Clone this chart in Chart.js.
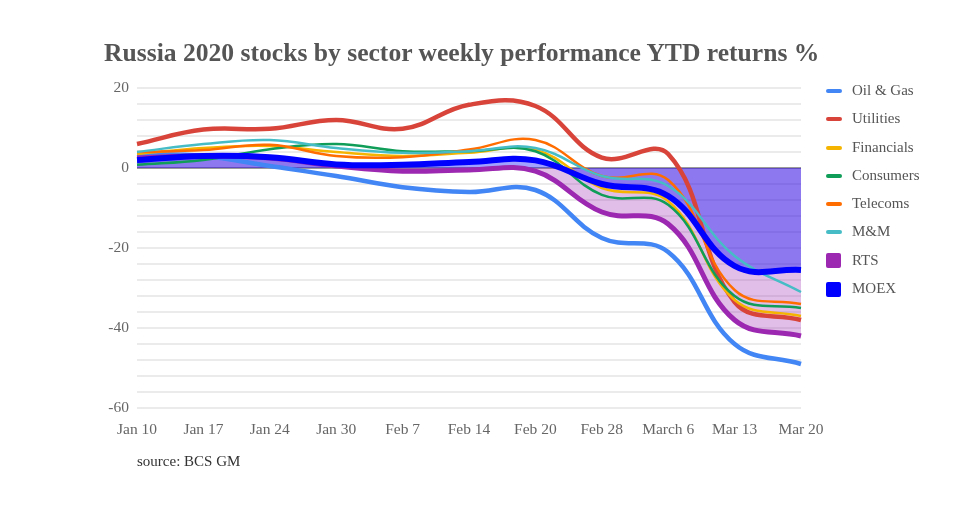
<!DOCTYPE html>
<html>
<head>
<meta charset="utf-8">
<title>Russia 2020 stocks by sector</title>
<script src="https://cdn.jsdelivr.net/npm/chart.js@4.4.1/dist/chart.umd.min.js"></script>
<style>
  body { margin: 0; background: #fff; }
  #wrap { position: relative; width: 974px; height: 510px; }
  #title { position: absolute; left: 104px; top: 40px; font: bold 25.6px/1 "Liberation Serif", serif; color: #555; white-space: nowrap; }
  #legend { position: absolute; left: 826px; top: 77px; font: 15px "Liberation Serif", serif; color: #555; }
  .item { position: relative; height: 28.3px; }
  .swatch { position: absolute; left: 0; border-radius: 2px; }
  .label { position: absolute; left: 26px; top: 5px; white-space: nowrap; }
  #source { position: absolute; left: 137px; top: 454px; font: 15px/1 "Liberation Serif", serif; color: #333; }
</style>
</head>
<body>
<div id="wrap">
  <canvas id="chart"></canvas>
  <div id="title">Russia 2020 stocks by sector weekly performance YTD returns %</div>
  <div id="legend"></div>
  <div id="source">source: BCS GM</div>
</div>
<script>
// weekly YTD returns, %
const weeks = ['Jan 10', 'Jan 17', 'Jan 24', 'Jan 30', 'Feb 7', 'Feb 14', 'Feb 20', 'Feb 28', 'March 6', 'Mar 13', 'Mar 20'];
const oilGas = [3.5, 3, 0.5, -2, -4.8, -6, -5.5, -17.5, -21, -44, -49];
const utilities = [6, 9.6, 9.8, 12, 9.8, 15.8, 15.5, 2.6, 3.5, -33.5, -38];
const financials = [3.5, 5, 5.5, 4, 3, 3.8, 4.6, -5, -8.3, -33, -37];
const consumers = [0.8, 2, 4.7, 6, 4.2, 4.2, 4.2, -6.7, -9.2, -32, -35];
const telecoms = [4, 4.5, 5.8, 3, 2.7, 4.6, 7, -2, -3, -30.5, -34];
const metals = [4, 6, 7, 5, 3.8, 4.2, 5, -2, -4.5, -22, -31];
const rts = [2.5, 3, 2.5, 0.5, -0.8, -0.5, -0.8, -11, -14, -38, -42];
const moex = [2, 3, 2.7, 0.9, 0.8, 1.5, 1.9, -4, -7, -24.5, -25.5];

const yTicks = [20, 0, -20, -40, -60];

const line = (label, data, color, width, order) => ({
  label, data, borderColor: color, backgroundColor: color,
  borderWidth: width, pointRadius: 0, tension: 0.4, fill: false, order
});

const datasets = [
  line('Oil & Gas', oilGas, '#4285f4', 4.5, 7),
  line('Utilities', utilities, '#d9443a', 4.5, 6),
  line('Financials', financials, '#f4b400', 2.5, 5),
  line('Consumers', consumers, '#0f9d58', 2.5, 4),
  line('Telecoms', telecoms, '#ff6d01', 2.5, 3),
  line('M&M', metals, '#46bdc6', 2.5, 2),
  // the two index series are areas down to zero
  { ...line('RTS', rts, '#9c27b0', 5, 1), fill: 'origin', backgroundColor: 'rgba(156, 39, 176, 0.3)', area: true },
  { ...line('MOEX', moex, '#0000ff', 6, 0), fill: 'origin', backgroundColor: 'rgba(0, 0, 255, 0.37)', area: true },
];

const serif = '"Liberation Serif", "Times New Roman", serif';

const chart = new Chart(document.getElementById('chart'), {
  type: 'line',
  data: { labels: weeks, datasets },
  options: {
    responsive: true,
    maintainAspectRatio: false,
    animation: false,
    layout: { padding: { top: 88, left: 104, right: 173, bottom: 72 } },
    plugins: {
      legend: { display: false },
      tooltip: { enabled: false },
      filler: { drawTime: 'beforeDatasetsDraw' } // areas under every line
    },
    scales: {
      x: {
        grid: { display: false },
        border: { display: false },
        ticks: { color: '#666', font: { family: serif, size: 15.5 }, padding: 5, maxRotation: 0, autoSkip: false },
        afterFit: (s) => { s.height = 30; }
      },
      y: {
        min: -60,
        max: 20,
        border: { display: false },
        grid: {
          drawTicks: false,
          lineWidth: 2,
          color: (ctx) => ctx.tick && ctx.tick.value === 0 ? '#9a9a9a' : '#ebebeb'
        },
        ticks: {
          stepSize: 4,
          autoSkip: false,
          padding: 8,
          color: '#666',
          font: { family: serif, size: 15.5 },
          callback: (v) => yTicks.includes(v) ? v : ''
        },
        afterFit: (s) => { s.width = 33; }
      }
    }
  }
});

// legend on the right, built from the chart's datasets
const legend = document.getElementById('legend');
chart.data.datasets.forEach((ds) => {
  const item = document.createElement('div');
  item.className = 'item';
  const sw = document.createElement('span');
  sw.className = 'swatch';
  sw.style.background = ds.borderColor;
  if (ds.area) {
    sw.style.width = '15px'; sw.style.height = '15px'; sw.style.top = '6.5px';
  } else {
    sw.style.width = '16px'; sw.style.height = '4px'; sw.style.top = '12px';
  }
  const lb = document.createElement('span');
  lb.className = 'label';
  lb.textContent = ds.label;
  item.appendChild(sw);
  item.appendChild(lb);
  legend.appendChild(item);
});
</script>
</body>
</html>
